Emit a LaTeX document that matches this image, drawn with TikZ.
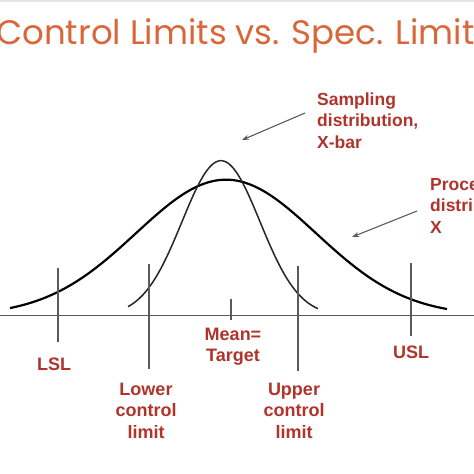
\documentclass[tikz,border=0pt]{standalone}
\usepackage{fontspec}
\setmainfont{Liberation Sans}
\newfontfamily\titlefont{Poppins}
\usetikzlibrary{arrows.meta}
\definecolor{titleorange}{HTML}{D8673A}
\definecolor{labelred}{HTML}{B0332C}
\definecolor{linegray}{HTML}{5A5A5A}
\begin{document}
\begin{tikzpicture}[x=1pt,y=-1pt,
  lbl/.style={font=\bfseries\fontsize{18}{21.5}\selectfont, text=labelred, align=center, inner sep=0pt, anchor=base},
  lbll/.style={font=\bfseries\fontsize{17.5}{21.5}\selectfont, text=labelred, align=left, inner sep=0pt, anchor=base west},
  limline/.style={draw=linegray, line width=1.1pt},
  pointer/.style={draw=linegray, line width=1.1pt, -{Stealth[length=7pt,width=5pt]}},
  widecurve/.style={draw=black, line width=2.2pt},
  narrowcurve/.style={draw=black!85, line width=1.5pt}]
\useasboundingbox (0,0) rectangle (474,474);
\clip (0,0) rectangle (474,474);
\fill[white] (0,0) rectangle (474,474);
\fill[black!10] (0,0) rectangle (474,2);
% title
\node[font=\titlefont\fontsize{34}{40}\selectfont, text=titleorange, inner sep=0pt, anchor=base west, xscale=1.0] (title) at (-4,44) {Control Limits vs. Spec. Limits};
% axis
\coordinate (axL) at (0,315.7);
\coordinate (axR) at (474,315.7);
\draw[draw=linegray, line width=1.4pt] (axL) -- (axR);
% curves
\draw[widecurve, domain=10:447, samples=120, smooth] plot (\x, {315.7-136*exp(-0.5*((\x-226)/90)^2)});
\draw[narrowcurve, domain=128:318, samples=100, smooth] plot (\x, {315.7-155*exp(-0.5*((\x-221)/39)^2)});
% vertical lines
\coordinate (lslT) at (58,268); \coordinate (lslB) at (58,342);
\coordinate (lclT) at (149,264); \coordinate (lclB) at (149,369);
\coordinate (meanT) at (231,299); \coordinate (meanB) at (231,320);
\coordinate (uclT) at (298,266); \coordinate (uclB) at (298,371);
\coordinate (uslT) at (411,263); \coordinate (uslB) at (411,336);
\draw[limline] (lslT) -- (lslB);
\draw[limline] (lclT) -- (lclB);
\draw[limline] (meanT) -- (meanB);
\draw[limline] (uclT) -- (uclB);
\draw[limline] (uslT) -- (uslB);
% labels (anchor = baseline of the last line)
\node[lbl] (lsl) at (54,370) {LSL};
\node[lbl] (mean) at (233,361.5) {Mean=\\Target};
\node[lbl] (usl) at (411,358) {USL};
\node[lbl] (lcl) at (146,438) {Lower\\control\\limit};
\node[lbl] (ucl) at (294,438) {Upper\\control\\limit};
\node[lbll] (samp) at (317,148) {Sampling\\distribution,\\X-bar};
\node[lbll] (proc) at (430,233) {Process\\distribution,\\X};
% pointers
\coordinate (sampS) at (305,113); \coordinate (sampE) at (242,140);
\coordinate (procS) at (417,211); \coordinate (procE) at (352,237);
\draw[pointer] (sampS) -- (sampE);
\draw[pointer] (procS) -- (procE);
\end{tikzpicture}
\end{document}
